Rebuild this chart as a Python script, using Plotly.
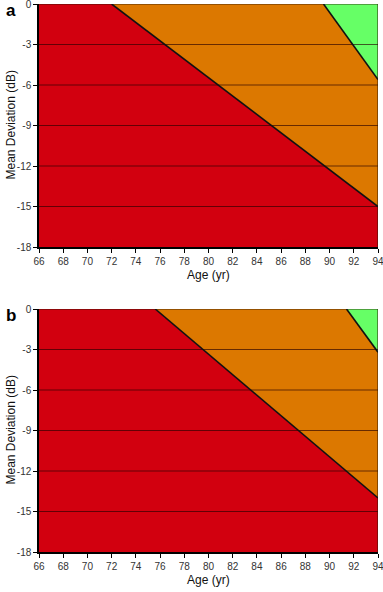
import plotly.graph_objects as go

# Axis ranges and ticks
age_ticks = [66, 68, 70, 72, 74, 76, 78, 80, 82, 84, 86, 88, 90, 92, 94]
md_ticks = [0, -3, -6, -9, -12, -15, -18]
md_tick_labels = ["0", "-3", "-6", "-9", "-12", "-15", "-18"]
age_min, age_max = 66, 94
md_min, md_max = -18, 0

# Panel a boundaries (age, mean deviation)
a_red_orange_age = [72, 94]
a_red_orange_md = [0, -15]
a_orange_green_age = [89.5, 94]
a_orange_green_md = [0, -5.6]

# Panel b boundaries
b_red_orange_age = [75.6, 94]
b_red_orange_md = [0, -14]
b_orange_green_age = [91.4, 94]
b_orange_green_md = [0, -3.2]

panels = [
    ("a", a_red_orange_age, a_red_orange_md, a_orange_green_age, a_orange_green_md),
    ("b", b_red_orange_age, b_red_orange_md, b_orange_green_age, b_orange_green_md),
]

RED = "#D2000F"
ORANGE = "#DC7800"
GREEN = "#66FF66"
FONT = "Liberation Sans, Arial"

fig = go.Figure()
W, H = 383, 592
ml, mr, mt, mb = 39, 5, 4, 40
ph = H - mt - mb
pw = W - ml - mr
top_pix = [(4, 247), (309, 552)]

for i, (lab, ro_x, ro_y, og_x, og_y) in enumerate(panels):
    xa = "x" if i == 0 else "x2"
    ya = "y" if i == 0 else "y2"
    rx = [age_min, ro_x[0], ro_x[1], age_max, age_min, age_min]
    ry = [md_max, ro_y[0], ro_y[1], md_min, md_min, md_max]
    fig.add_trace(go.Scatter(x=rx, y=ry, fill="toself", fillcolor=RED, mode="lines",
                             line=dict(width=0, color=RED), xaxis=xa, yaxis=ya, showlegend=False, hoverinfo="skip"))
    ox = [ro_x[0], og_x[0], og_x[1], ro_x[1], ro_x[0]]
    oy = [ro_y[0], og_y[0], og_y[1], ro_y[1], ro_y[0]]
    fig.add_trace(go.Scatter(x=ox, y=oy, fill="toself", fillcolor=ORANGE, mode="lines",
                             line=dict(width=0, color=ORANGE), xaxis=xa, yaxis=ya, showlegend=False, hoverinfo="skip"))
    gx = [og_x[0], age_max, og_x[1], og_x[0]]
    gy = [og_y[0], md_max, og_y[1], og_y[0]]
    fig.add_trace(go.Scatter(x=gx, y=gy, fill="toself", fillcolor=GREEN, mode="lines",
                             line=dict(width=0, color=GREEN), xaxis=xa, yaxis=ya, showlegend=False, hoverinfo="skip"))
    for v in md_ticks[1:-1]:
        fig.add_trace(go.Scatter(x=[age_min, age_max], y=[v, v], mode="lines",
                                 line=dict(width=1, color="rgba(40,0,0,0.65)"),
                                 xaxis=xa, yaxis=ya, showlegend=False, hoverinfo="skip"))
    # top and right frame
    fig.add_trace(go.Scatter(x=[age_min, age_max, age_max], y=[md_max, md_max, md_min], mode="lines",
                             line=dict(width=1.2, color="rgba(40,20,0,0.8)"),
                             xaxis=xa, yaxis=ya, showlegend=False, hoverinfo="skip"))
    for bx, by in [(ro_x, ro_y), (og_x, og_y)]:
        fig.add_trace(go.Scatter(x=bx, y=by, mode="lines", line=dict(width=1.6, color="#111111"),
                                 xaxis=xa, yaxis=ya, showlegend=False, hoverinfo="skip"))

    t, b = top_pix[i]
    dom = [(H - mb - b) / ph, (H - mb - t) / ph]
    axis_common = dict(showgrid=False, zeroline=False, ticks="outside", ticklen=4, tickwidth=1,
                       tickcolor="black", showline=True, linecolor="black", linewidth=1.5, mirror=False,
                       automargin=False, ticklabeloverflow="allow",
                       tickfont=dict(family=FONT, size=10, color="#333"))
    xkey = "xaxis" if i == 0 else "xaxis2"
    ykey = "yaxis" if i == 0 else "yaxis2"
    fig.update_layout(**{
        xkey: dict(axis_common, range=[age_min, age_max], tickvals=age_ticks, anchor=ya),
        ykey: dict(axis_common, range=[md_min, md_max], tickvals=md_ticks, ticktext=md_tick_labels,
                   domain=dom, anchor=xa),
    })
    fig.add_annotation(text="<b>%s</b>" % lab, xref="paper", yref="paper", x=-35 / pw, y=dom[1] + 5 / ph,
                       xanchor="left", yanchor="top", showarrow=False,
                       font=dict(family=FONT, size=17, color="black"))
    fig.add_annotation(text="Age (yr)", xref="paper", yref="paper", x=0.5, y=dom[0] - 19 / ph,
                       xanchor="center", yanchor="top", showarrow=False,
                       font=dict(family=FONT, size=12, color="#111"))
    fig.add_annotation(text="Mean Deviation (dB)", xref="paper", yref="paper", x=-38 / pw, y=(dom[0] + dom[1]) / 2,
                       xanchor="left", yanchor="middle", showarrow=False, textangle=-90,
                       font=dict(family=FONT, size=12, color="#111"))

fig.update_layout(width=W, height=H, margin=dict(l=ml, r=mr, t=mt, b=mb, autoexpand=False),
                  plot_bgcolor="white", paper_bgcolor="white")
fig.write_html("out.html", config={"displayModeBar": False},
               post_script="document.body.style.margin='0px';")
